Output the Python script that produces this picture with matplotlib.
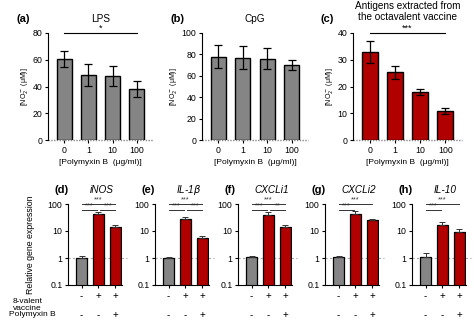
import matplotlib
matplotlib.use('Agg')
import matplotlib.pyplot as plt
import matplotlib.transforms as mtransforms
import numpy as np

plt.rcParams['font.family'] = ['Liberation Sans', 'DejaVu Sans']

# top row: nitrite vs polymyxin B dose
doses = ['0', '1', '10', '100']
lps_mean = [60.5, 48.7, 48.0, 38.3]
lps_err = [6.2, 8.0, 7.6, 6.0]
cpg_mean = [78, 77, 76, 70]
cpg_err = [10.5, 10.5, 10.0, 5.0]
oct_mean = [32.9, 25.3, 17.9, 11.0]
oct_err = [4.0, 2.5, 1.2, 1.1]

# bottom row: relative gene expression
genes = ['iNOS', r'IL-1$\beta$', 'CXCLi1', 'CXCLi2', 'IL-10']
inos = [1.02, 42, 14]
inos_err = [0.12, 7, 2.8]
il1b = [1.0, 28.7, 5.6]
il1b_err = [0.05, 5.3, 0.9]
cxcli1 = [1.05, 38.7, 14]
cxcli1_err = [0.1, 12, 2.8]
cxcli2 = [1.06, 42, 25]
cxcli2_err = [0.12, 11, 3]
il10 = [1.12, 17.3, 9.2]
il10_err = [0.35, 4.4, 2.3]
vaccine_row = ['-', '+', '+']
polymyxin_row = ['-', '-', '+']

gray = '#858585'
red = '#b00000'

fig = plt.figure(figsize=(4.74, 3.26), dpi=100)


def px(x0, y0, x1, y1):
    # pixel box -> figure fraction
    W, H = 474, 326
    return [x0 / W, 1 - y1 / H, (x1 - x0) / W, (y1 - y0) / H]


def top_panel(box, means, errs, ymax, step, color, letter, title, sig, title_y=1.13):
    ax = fig.add_axes(px(*box))
    x = np.arange(len(means))
    ax.bar(x, means, width=0.62, color=color, edgecolor='black', linewidth=1.0, zorder=2)
    ax.errorbar(x, means, yerr=errs, fmt='none', ecolor='black', elinewidth=0.9,
                capsize=3, capthick=0.9, zorder=3)
    ax.set_xlim(-0.67, 3.67)
    ax.set_ylim(0, ymax)
    ax.set_yticks(np.arange(0, ymax + 1, step))
    ax.set_xticks(x)
    ax.set_xticklabels(doses)
    ax.spines['top'].set_visible(False)
    ax.spines['right'].set_visible(False)
    ax.spines['bottom'].set_visible(False)
    ax.axhline(0, color='#888888', lw=1.0, ls=(0, (1, 1)), zorder=1, clip_on=False)
    ax.tick_params(labelsize=6.3, length=2.5, width=0.8, pad=1.5)
    ax.set_ylabel(r'[NO$_2^-$ (μM)]', fontsize=5, labelpad=2)
    ax.set_xlabel('[Polymyxin B  (μg/ml)]', fontsize=6, labelpad=3)
    ax.text(-0.3, 1.13, letter, transform=ax.transAxes, fontsize=8, fontweight='bold',
            ha='left', va='center')
    ax.text(0.5, title_y, title, transform=ax.transAxes, fontsize=7.2, ha='center',
            va='center', linespacing=1.05)
    if sig:
        ax.plot([0, 3], [ymax, ymax], color='black', lw=0.8, clip_on=False)
        ax.text(1.5, ymax * 1.005, sig, ha='center', va='bottom', fontsize=6.5)
    return ax


top_panel((48, 33, 153, 140), lps_mean, lps_err, 80, 20, gray, '(a)', 'LPS', '*')
top_panel((202, 33, 308, 140), cpg_mean, cpg_err, 100, 20, gray, '(b)', 'CpG', None)
top_panel((353, 33, 462, 140), oct_mean, oct_err, 40, 10, red, '(c)',
          'Antigens extracted from\nthe octavalent vaccine', '***', title_y=1.2)


def bottom_panel(left, means, errs, letter, gene, sigs, first=False):
    ax = fig.add_axes(px(left, 204, left + 54, 285))
    x = np.arange(3)
    ax.set_yscale('log')
    ax.bar(x, means, width=0.65, color=[gray, red, red], edgecolor='black',
           linewidth=0.9, zorder=2)
    ax.errorbar(x, means, yerr=[[0, 0, 0], errs], fmt='none', ecolor='#333333',
                elinewidth=0.7, capsize=2, capthick=0.7, zorder=3)
    ax.plot([-0.8, 2.7], [1, 1], color='#aaaaaa', lw=0.8, ls=(0, (2, 2)), zorder=1,
            clip_on=False)
    ax.set_xlim(-0.8, 2.4)
    ax.set_ylim(0.1, 100)
    ax.set_yticks([0.1, 1, 10, 100])
    ax.set_yticklabels(['0.1', '1', '10', '100'])
    ax.minorticks_off()
    ax.set_xticks(x)
    ax.set_xticklabels(vaccine_row)
    ax.spines['top'].set_visible(False)
    ax.spines['right'].set_visible(False)
    ax.tick_params(labelsize=6.3, length=2.5, width=0.8, pad=1.5)
    ax.tick_params(axis='x', labelsize=7, pad=2)
    trans = mtransforms.blended_transform_factory(ax.transData, ax.transAxes)
    for xi, s in zip(x, polymyxin_row):
        ax.text(xi, -0.37, s, transform=trans, ha='center', va='center', fontsize=7)
    ax.text(-0.25, 1.17, letter, transform=ax.transAxes, fontsize=8, fontweight='bold',
            ha='left', va='center')
    ax.text(0.62, 1.17, gene, transform=ax.transAxes, fontsize=7.2, ha='center',
            va='center', style='italic')
    for (x0, x1, y, s) in sigs:
        ax.plot([x0, x1], [y, y], color='#333333', lw=0.7, clip_on=False)
        ax.text((x0 + x1) / 2, y * 1.02, s, ha='center', va='bottom', fontsize=5.2,
                color='#333333')
    if first:
        ax.set_ylabel('Relative gene expression', fontsize=6.3, labelpad=9)
        ax.text(-0.75, -0.25, '8-valent\nvaccine', transform=ax.transAxes, ha='center',
                va='center', fontsize=6, linespacing=1.0)
        ax.text(-0.66, -0.37, 'Polymyxin B', transform=ax.transAxes, ha='center',
                va='center', fontsize=6)
    return ax


long_sig = 100
short_sig = 60
bottom_panel(68, inos, inos_err, '(d)', genes[0],
             [(0, 2, long_sig, '***'), (0, 0.9, short_sig, '***'), (1.1, 2, short_sig, '***')],
             first=True)
bottom_panel(155, il1b, il1b_err, '(e)', genes[1],
             [(0, 2, long_sig, '***'), (0, 0.9, short_sig, '***'), (1.1, 2, short_sig, '***')])
bottom_panel(238, cxcli1, cxcli1_err, '(f)', genes[2],
             [(0, 2, long_sig, '***'), (0, 0.9, short_sig, '***'), (1.1, 2, short_sig, '**')])
bottom_panel(325, cxcli2, cxcli2_err, '(g)', genes[3],
             [(0, 2, long_sig, '***'), (0, 0.9, short_sig, '***')])
bottom_panel(412, il10, il10_err, '(h)', genes[4],
             [(0, 2, long_sig, '***'), (0, 0.9, short_sig, '***')])

fig.savefig('out.png', dpi=100)
